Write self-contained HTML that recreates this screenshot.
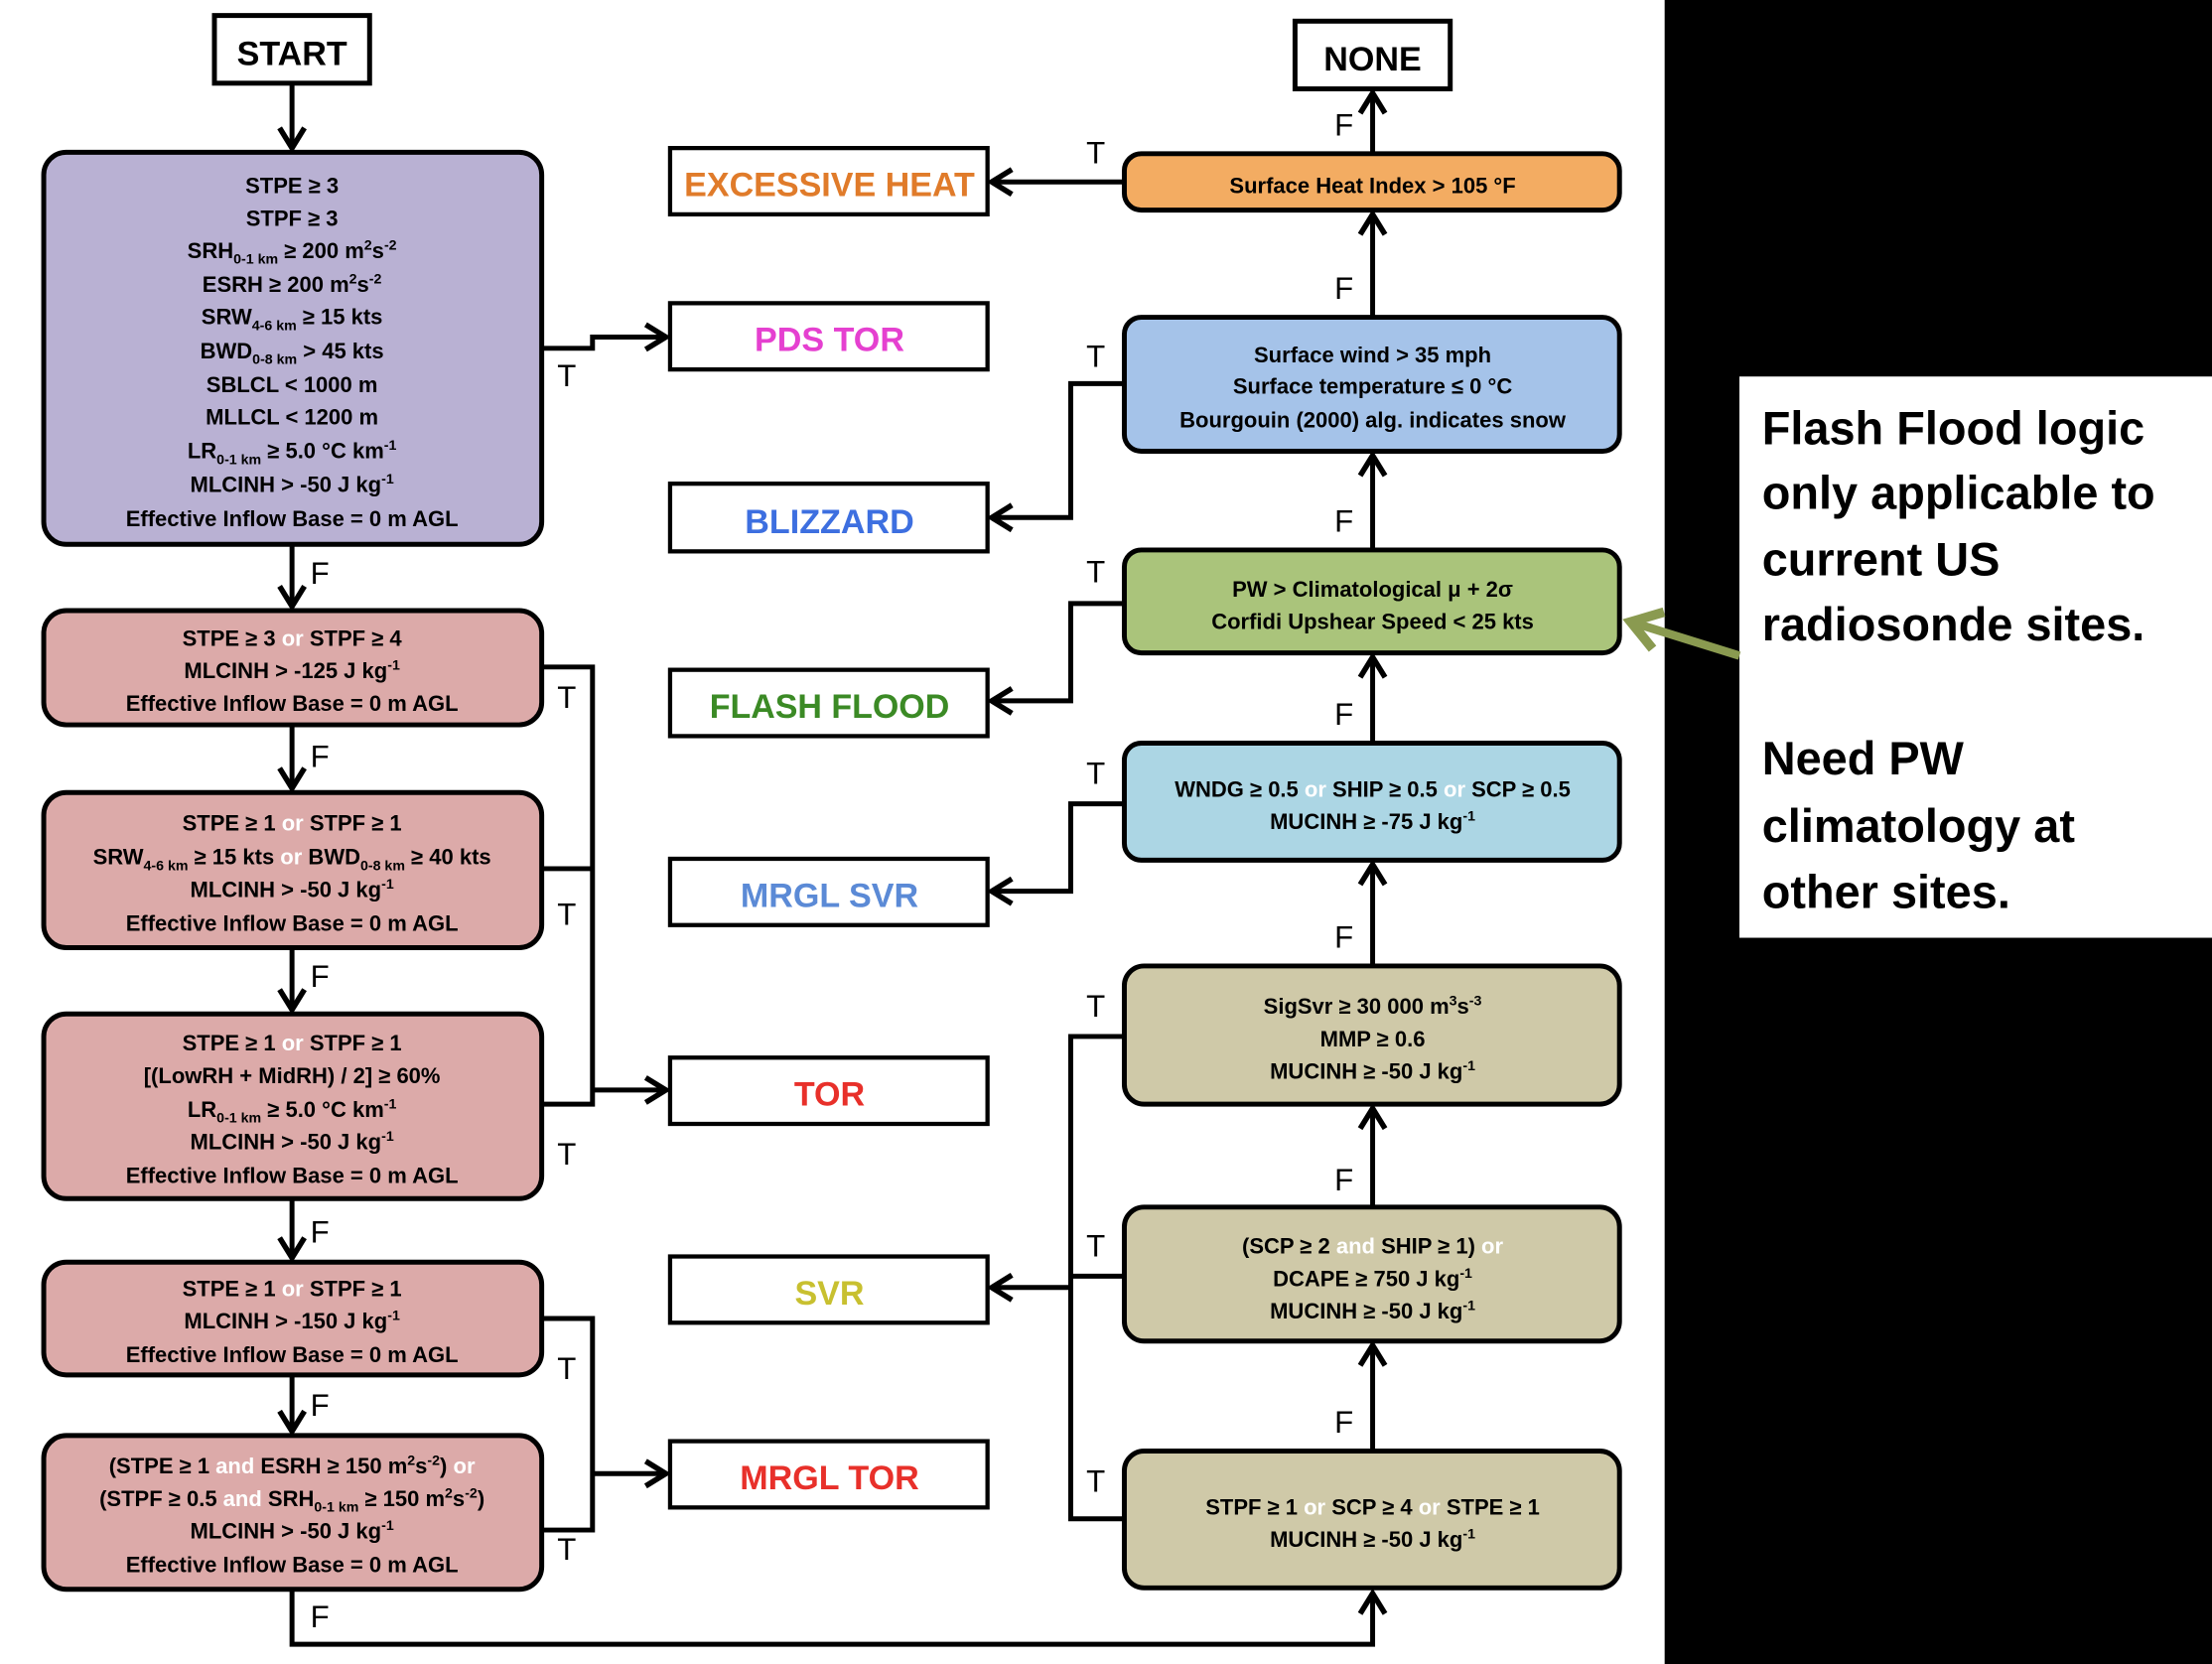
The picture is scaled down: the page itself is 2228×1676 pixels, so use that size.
<!DOCTYPE html>
<html><head><meta charset="utf-8">
<style>
html,body{margin:0;padding:0;background:#fff;}
svg{display:block;}
text{font-family:"Liberation Sans",sans-serif;font-weight:bold;}
</style></head>
<body>
<svg width="2228" height="1676" viewBox="0 0 1568 1180" preserveAspectRatio="none" xmlns="http://www.w3.org/2000/svg">
<defs>
<marker id="a" viewBox="0 0 20 20" refX="17" refY="10" markerWidth="22" markerHeight="22" markerUnits="userSpaceOnUse" orient="auto">
<path d="M4,2 L17,10 L4,18" fill="none" stroke="#000" stroke-width="3.5"/>
</marker>
<marker id="g" viewBox="0 0 20 20" refX="15" refY="10" markerWidth="34" markerHeight="34" markerUnits="userSpaceOnUse" orient="auto">
<path d="M3,2 L15,10 L3,18" fill="none" stroke="#8a9a50" stroke-width="4"/>
</marker>
</defs>
<rect x="0" y="0" width="1568" height="1180" fill="#fff"/>
<rect x="1180" y="0" width="388" height="1180" fill="#000"/>
<rect x="1233" y="267" width="335" height="398" fill="#fff"/>

<g font-size="33" fill="#000">
<text x="1249" y="315">Flash Flood logic</text>
<text x="1249" y="361">only applicable to</text>
<text x="1249" y="408">current US</text>
<text x="1249" y="454">radiosonde sites.</text>
<text x="1249" y="549">Need PW</text>
<text x="1249" y="597">climatology at</text>
<text x="1249" y="644">other sites.</text>
</g>
<line x1="1233" y1="465" x2="1156" y2="441" stroke="#8a9a50" stroke-width="6" marker-end="url(#g)"/>

<g fill="none" stroke="#000" stroke-width="3.5">
<line x1="207" y1="59" x2="207" y2="105" marker-end="url(#a)"/>
<line x1="207" y1="386" x2="207" y2="430" marker-end="url(#a)"/>
<line x1="207" y1="514" x2="207" y2="559" marker-end="url(#a)"/>
<line x1="207" y1="672" x2="207" y2="716" marker-end="url(#a)"/>
<line x1="207" y1="850" x2="207" y2="892" marker-end="url(#a)"/>
<line x1="207" y1="975" x2="207" y2="1015" marker-end="url(#a)"/>
<polyline points="207,1127 207,1166 973,1166 973,1130" marker-end="url(#a)"/>
<polyline points="384,247 420,247 420,239 472,239" marker-end="url(#a)"/>
<polyline points="384,473 420,473 420,783 384,783"/>
<line x1="384" y1="616" x2="420" y2="616"/>
<line x1="420" y1="773" x2="472" y2="773" marker-end="url(#a)"/>
<polyline points="384,935 420,935 420,1085 384,1085"/>
<line x1="420" y1="1045" x2="472" y2="1045" marker-end="url(#a)"/>
<line x1="973" y1="109" x2="973" y2="66" marker-end="url(#a)"/>
<line x1="973" y1="225" x2="973" y2="152" marker-end="url(#a)"/>
<line x1="973" y1="390" x2="973" y2="323" marker-end="url(#a)"/>
<line x1="973" y1="527" x2="973" y2="466" marker-end="url(#a)"/>
<line x1="973" y1="685" x2="973" y2="613" marker-end="url(#a)"/>
<line x1="973" y1="856" x2="973" y2="786" marker-end="url(#a)"/>
<line x1="973" y1="1029" x2="973" y2="954" marker-end="url(#a)"/>
<line x1="797" y1="129" x2="703" y2="129" marker-end="url(#a)"/>
<polyline points="797,272 759,272 759,367 703,367" marker-end="url(#a)"/>
<polyline points="797,428 759,428 759,497 703,497" marker-end="url(#a)"/>
<polyline points="797,570 759,570 759,632 703,632" marker-end="url(#a)"/>
<polyline points="797,735 759,735 759,1077 797,1077"/>
<line x1="797" y1="905" x2="759" y2="905"/>
<line x1="759" y1="913" x2="703" y2="913" marker-end="url(#a)"/>
</g>

<g stroke="#000" stroke-width="3.5">
<rect x="152" y="11" width="110" height="48" fill="#fff"/>
<rect x="918" y="15" width="110" height="48" fill="#fff"/>
<rect x="31" y="108" width="353" height="278" rx="16" fill="#b9b1d3"/>
<rect x="31" y="433" width="353" height="81" rx="16" fill="#dcaaa9"/>
<rect x="31" y="562" width="353" height="110" rx="16" fill="#dcaaa9"/>
<rect x="31" y="719" width="353" height="131" rx="16" fill="#dcaaa9"/>
<rect x="31" y="895" width="353" height="80" rx="16" fill="#dcaaa9"/>
<rect x="31" y="1018" width="353" height="109" rx="16" fill="#dcaaa9"/>
<rect x="797" y="109" width="351" height="40" rx="12" fill="#f3ac62"/>
<rect x="797" y="225" width="351" height="95" rx="12" fill="#a5c3e9"/>
<rect x="797" y="390" width="351" height="73" rx="12" fill="#aac47b"/>
<rect x="797" y="527" width="351" height="83" rx="12" fill="#acd6e4"/>
<rect x="797" y="685" width="351" height="98" rx="14" fill="#cfc9a8"/>
<rect x="797" y="856" width="351" height="95" rx="14" fill="#cfc9a8"/>
<rect x="797" y="1029" width="351" height="97" rx="14" fill="#cfc9a8"/>
<g fill="#fff" stroke-width="3">
<rect x="475" y="105" width="225" height="47"/>
<rect x="475" y="215" width="225" height="47"/>
<rect x="475" y="343" width="225" height="48"/>
<rect x="475" y="475" width="225" height="47"/>
<rect x="475" y="609" width="225" height="47"/>
<rect x="475" y="750" width="225" height="47"/>
<rect x="475" y="891" width="225" height="47"/>
<rect x="475" y="1022" width="225" height="47"/>
</g>
</g>

<g font-size="24" text-anchor="middle">
<text x="207" y="46">START</text>
<text x="973" y="50">NONE</text>
</g>
<g font-size="24" text-anchor="middle">
<text x="588" y="139" fill="#e07b2a" textLength="206" lengthAdjust="spacingAndGlyphs">EXCESSIVE HEAT</text>
<text x="588" y="249" fill="#e540d0">PDS TOR</text>
<text x="588" y="378" fill="#3d6fe0">BLIZZARD</text>
<text x="588" y="509" fill="#3b8a25" textLength="170" lengthAdjust="spacingAndGlyphs">FLASH FLOOD</text>
<text x="588" y="643" fill="#5b8ad6">MRGL SVR</text>
<text x="588" y="784" fill="#e8302a">TOR</text>
<text x="588" y="925" fill="#c8c030">SVR</text>
<text x="588" y="1056" fill="#e8302a">MRGL TOR</text>
</g>

<g font-size="22">
<text x="395" y="274" style="font-weight:normal">T</text>
<text x="220" y="414" style="font-weight:normal">F</text>
<text x="395" y="502" style="font-weight:normal">T</text>
<text x="220" y="544" style="font-weight:normal">F</text>
<text x="395" y="656" style="font-weight:normal">T</text>
<text x="220" y="700" style="font-weight:normal">F</text>
<text x="395" y="826" style="font-weight:normal">T</text>
<text x="220" y="881" style="font-weight:normal">F</text>
<text x="395" y="978" style="font-weight:normal">T</text>
<text x="220" y="1004" style="font-weight:normal">F</text>
<text x="395" y="1106" style="font-weight:normal">T</text>
<text x="220" y="1154" style="font-weight:normal">F</text>
<text x="946" y="96" style="font-weight:normal">F</text>
<text x="946" y="212" style="font-weight:normal">F</text>
<text x="946" y="377" style="font-weight:normal">F</text>
<text x="946" y="514" style="font-weight:normal">F</text>
<text x="946" y="672" style="font-weight:normal">F</text>
<text x="946" y="844" style="font-weight:normal">F</text>
<text x="946" y="1016" style="font-weight:normal">F</text>
<text x="770" y="116" style="font-weight:normal">T</text>
<text x="770" y="260" style="font-weight:normal">T</text>
<text x="770" y="413" style="font-weight:normal">T</text>
<text x="770" y="556" style="font-weight:normal">T</text>
<text x="770" y="721" style="font-weight:normal">T</text>
<text x="770" y="891" style="font-weight:normal">T</text>
<text x="770" y="1058" style="font-weight:normal">T</text>
</g>

<g font-size="15.5" text-anchor="middle" fill="#000">
<text x="207" y="137">STPE ≥ 3</text>
<text x="207" y="160">STPF ≥ 3</text>
<text x="207" y="183">SRH<tspan font-size="10" dy="4">0-1 km</tspan><tspan dy="-4"> ≥ 200 m</tspan><tspan font-size="10" dy="-6">2</tspan><tspan dy="6">s</tspan><tspan font-size="10" dy="-6">-2</tspan></text>
<text x="207" y="207">ESRH ≥ 200 m<tspan font-size="10" dy="-6">2</tspan><tspan dy="6">s</tspan><tspan font-size="10" dy="-6">-2</tspan></text>
<text x="207" y="230">SRW<tspan font-size="10" dy="4">4-6 km</tspan><tspan dy="-4"> ≥ 15 kts</tspan></text>
<text x="207" y="254">BWD<tspan font-size="10" dy="4">0-8 km</tspan><tspan dy="-4">  &gt; 45 kts</tspan></text>
<text x="207" y="278">SBLCL &lt; 1000 m</text>
<text x="207" y="301">MLLCL &lt; 1200 m</text>
<text x="207" y="325">LR<tspan font-size="10" dy="4">0-1 km</tspan><tspan dy="-4">  ≥ 5.0 °C km</tspan><tspan font-size="10" dy="-6">-1</tspan></text>
<text x="207" y="349">MLCINH &gt; -50 J kg<tspan font-size="10" dy="-6">-1</tspan></text>
<text x="207" y="373">Effective Inflow Base = 0 m AGL</text>
<text x="207" y="458">STPE ≥ 3 <tspan fill="#fff">or</tspan> STPF ≥ 4</text>
<text x="207" y="481">MLCINH &gt; -125 J kg<tspan font-size="10" dy="-6">-1</tspan></text>
<text x="207" y="504">Effective Inflow Base = 0 m AGL</text>
<text x="207" y="589">STPE ≥ 1 <tspan fill="#fff">or</tspan> STPF ≥ 1</text>
<text x="207" y="613">SRW<tspan font-size="10" dy="4">4-6 km</tspan><tspan dy="-4"> ≥ 15 kts </tspan><tspan fill="#fff">or</tspan> BWD<tspan font-size="10" dy="4">0-8 km</tspan><tspan dy="-4"> ≥ 40 kts</tspan></text>
<text x="207" y="636">MLCINH &gt; -50 J kg<tspan font-size="10" dy="-6">-1</tspan></text>
<text x="207" y="660">Effective Inflow Base = 0 m AGL</text>
<text x="207" y="745">STPE ≥ 1 <tspan fill="#fff">or</tspan> STPF ≥ 1</text>
<text x="207" y="768">[(LowRH + MidRH) / 2] ≥ 60%</text>
<text x="207" y="792">LR<tspan font-size="10" dy="4">0-1 km</tspan><tspan dy="-4">  ≥ 5.0 °C km</tspan><tspan font-size="10" dy="-6">-1</tspan></text>
<text x="207" y="815">MLCINH &gt; -50 J kg<tspan font-size="10" dy="-6">-1</tspan></text>
<text x="207" y="839">Effective Inflow Base = 0 m AGL</text>
<text x="207" y="919">STPE ≥ 1 <tspan fill="#fff">or</tspan> STPF ≥ 1</text>
<text x="207" y="942">MLCINH &gt; -150 J kg<tspan font-size="10" dy="-6">-1</tspan></text>
<text x="207" y="966">Effective Inflow Base = 0 m AGL</text>
<text x="207" y="1045">(STPE ≥ 1 <tspan fill="#fff">and</tspan> ESRH ≥ 150 m<tspan font-size="10" dy="-6">2</tspan><tspan dy="6">s</tspan><tspan font-size="10" dy="-6">-2</tspan><tspan dy="6">) </tspan><tspan fill="#fff">or</tspan></text>
<text x="207" y="1068">(STPF ≥ 0.5 <tspan fill="#fff">and</tspan> SRH<tspan font-size="10" dy="4">0-1 km</tspan><tspan dy="-4"> ≥ 150 m</tspan><tspan font-size="10" dy="-6">2</tspan><tspan dy="6">s</tspan><tspan font-size="10" dy="-6">-2</tspan><tspan dy="6">)</tspan></text>
<text x="207" y="1091">MLCINH &gt; -50 J kg<tspan font-size="10" dy="-6">-1</tspan></text>
<text x="207" y="1115">Effective Inflow Base = 0 m AGL</text>

<text x="973" y="137">Surface Heat Index &gt; 105 °F</text>
<text x="973" y="257">Surface wind &gt; 35 mph</text>
<text x="973" y="279">Surface temperature ≤ 0 °C</text>
<text x="973" y="303">Bourgouin (2000) alg. indicates snow</text>
<text x="973" y="423">PW &gt; Climatological μ + 2σ</text>
<text x="973" y="446">Corfidi Upshear Speed &lt; 25 kts</text>
<text x="973" y="565">WNDG ≥ 0.5 <tspan fill="#fff">or</tspan> SHIP ≥ 0.5 <tspan fill="#fff">or</tspan> SCP ≥ 0.5</text>
<text x="973" y="588">MUCINH ≥ -75 J kg<tspan font-size="10" dy="-6">-1</tspan></text>
<text x="973" y="719">SigSvr ≥ 30 000 m<tspan font-size="10" dy="-6">3</tspan><tspan dy="6">s</tspan><tspan font-size="10" dy="-6">-3</tspan></text>
<text x="973" y="742">MMP ≥ 0.6</text>
<text x="973" y="765">MUCINH ≥ -50 J kg<tspan font-size="10" dy="-6">-1</tspan></text>
<text x="973" y="889">(SCP ≥ 2 <tspan fill="#fff">and</tspan> SHIP ≥ 1) <tspan fill="#fff">or</tspan></text>
<text x="973" y="912">DCAPE ≥ 750 J kg<tspan font-size="10" dy="-6">-1</tspan></text>
<text x="973" y="935">MUCINH ≥ -50 J kg<tspan font-size="10" dy="-6">-1</tspan></text>
<text x="973" y="1074">STPF ≥ 1 <tspan fill="#fff">or</tspan> SCP ≥ 4 <tspan fill="#fff">or</tspan> STPE ≥ 1</text>
<text x="973" y="1097">MUCINH ≥ -50 J kg<tspan font-size="10" dy="-6">-1</tspan></text>
</g>
</svg>
</body></html>
